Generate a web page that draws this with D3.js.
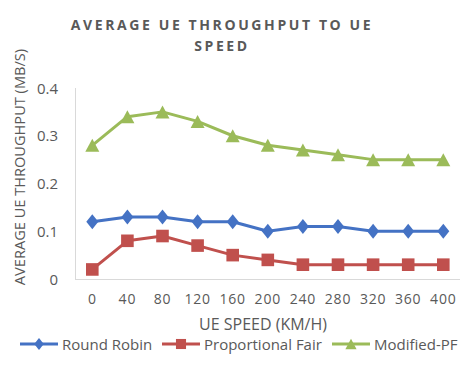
<!DOCTYPE html>
<html><head><meta charset="utf-8">
<script src="https://cdn.jsdelivr.net/npm/d3@7"></script>
<style>body{margin:0;background:#fff}svg{display:block;font-family:"Open Sans",sans-serif}</style>
</head><body><div id="chart"></div>
<script>
const speeds = [0,40,80,120,160,200,240,280,320,360,400];
const roundRobin = [0.12,0.13,0.13,0.12,0.12,0.10,0.11,0.11,0.10,0.10,0.10];
const propFair = [0.02,0.08,0.09,0.07,0.05,0.04,0.03,0.03,0.03,0.03,0.03];
const modifiedPF = [0.28,0.34,0.35,0.33,0.30,0.28,0.27,0.26,0.25,0.25,0.25];
const yTicks = [0,0.1,0.2,0.3,0.4];
const seriesNames = ["Round Robin","Proportional Fair","Modified-PF"];
const colors = ["#4472C4","#C0504D","#9BBB59"];

const diamond = s => { const w=6*s,h=7.5*s; return `M0,${-h}L${w},0L0,${h}L${-w},0Z`; };
const square = s => { const a=6.3*s; return `M${-a},${-a}H${a}V${a}H${-a}Z`; };
const triangle = s => { const w=7*s,h=6.5*s; return `M0,${-h}L${w},${h}L${-w},${h}Z`; };
const markers=[diamond,square,triangle];

const W=474,H=366;
const svg=d3.select("#chart").append("svg").attr("width",W).attr("height",H);
const x=d3.scalePoint().domain(speeds).range([92.3,443.3]);
const y=d3.scaleLinear().domain([0,0.4]).range([279,88]);
const txt="#595959";

const t=svg.append("text").attr("text-anchor","middle").attr("fill",txt)
 .attr("font-weight","bold").attr("font-size",14).attr("letter-spacing",2.6);
t.append("tspan").attr("x",222).attr("y",30).text("AVERAGE UE THROUGHPUT TO UE");
t.append("tspan").attr("x",222).attr("y",51).text("SPEED");

svg.append("line").attr("x1",75.5).attr("x2",75.5).attr("y1",88).attr("y2",279).attr("stroke","#d9d9d9").attr("stroke-width",1);
svg.append("line").attr("x1",75).attr("x2",460).attr("y1",279.5).attr("y2",279.5).attr("stroke","#d9d9d9").attr("stroke-width",1);

svg.append("g").selectAll("text").data(yTicks).join("text")
 .attr("x",58).attr("y",d=>y(d)+5.5).attr("text-anchor","end").attr("fill",txt).attr("font-size",15)
 .text(d=>d===0?"0":d3.format(".1f")(d));
svg.append("g").selectAll("text").data(speeds).join("text")
 .attr("x",d=>x(d)).attr("y",304).attr("text-anchor","middle").attr("fill",txt).attr("font-size",14).attr("letter-spacing",0.8)
 .text(d=>d);

svg.append("text").attr("x",263).attr("y",330).attr("text-anchor","middle").attr("fill",txt).attr("font-size",16).text("UE SPEED (KM/H)");
svg.append("text").attr("transform","translate(25,167) rotate(-90)").attr("text-anchor","middle").attr("fill",txt).attr("font-size",14.6).text("AVERAGE UE THROUGHPUT (MB/S)");

const data=[roundRobin,propFair,modifiedPF];
const line=d3.line().x((d,i)=>x(speeds[i])).y(d=>y(d));
data.forEach((vals,k)=>{
  svg.append("path").datum(vals).attr("d",line).attr("fill","none").attr("stroke",colors[k]).attr("stroke-width",3).attr("stroke-linejoin","round");
  svg.append("g").selectAll("path").data(vals).join("path")
   .attr("d",markers[k](1))
   .attr("transform",(d,i)=>`translate(${x(speeds[i])},${y(d)})`)
   .attr("fill",colors[k]);
});

const legX=[20,162,332];
seriesNames.forEach((n,k)=>{
  const g=svg.append("g").attr("transform",`translate(${legX[k]},344)`);
  g.append("line").attr("x1",0).attr("x2",38).attr("stroke",colors[k]).attr("stroke-width",3);
  g.append("path").attr("d",markers[k](0.8)).attr("transform","translate(19,0)").attr("fill",colors[k]);
  g.append("text").attr("x",42).attr("y",5.5).attr("fill",txt).attr("font-size",15).text(n);
});
</script></body></html>
